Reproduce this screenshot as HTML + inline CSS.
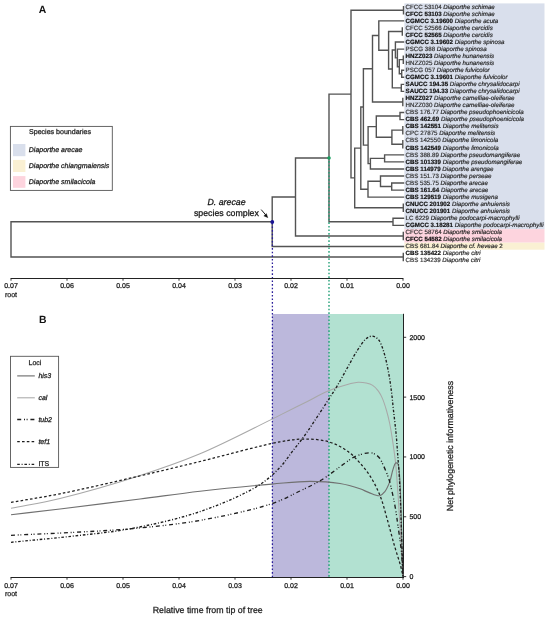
<!DOCTYPE html><html><head><meta charset="utf-8"><style>
html,body{margin:0;padding:0;background:#fff;}
svg{display:block;will-change:transform;}
text{text-rendering:geometricPrecision;font-family:"Liberation Sans",sans-serif;stroke-width:0.26px;}
text.lb{stroke-width:0.18px;}
</style></head><body>
<svg width="550" height="617" viewBox="0 0 550 617">
<rect x="404.4" y="3.4" width="140.1" height="225.7" fill="#d9dfec"/>
<rect x="404.4" y="229.1" width="140.1" height="13.6" fill="#fdd4de"/>
<rect x="404.4" y="242.7" width="140.1" height="7.0" fill="#faf0d3"/>
<rect x="272.2" y="314" width="56.8" height="263" fill="#bcb8dc"/>
<rect x="329" y="314" width="74.2" height="263" fill="#b2e1d1"/>
<path d="M403.50 6.80L403.50 13.85 M351.00 10.32L403.50 10.32 M378.80 20.90L403.50 20.90 M402.30 27.95L402.30 35.00 M388.60 31.48L402.30 31.48 M395.40 42.05L403.50 42.05 M397.40 49.10L403.50 49.10 M403.30 56.15L403.30 63.20 M399.30 59.67L403.30 59.67 M401.70 70.25L401.70 77.30 M401.70 70.25L403.50 70.25 M401.70 77.30L403.50 77.30 M399.30 73.78L401.70 73.78 M399.30 59.67L399.30 73.78 M397.40 66.72L399.30 66.72 M397.40 49.10L397.40 66.72 M395.40 57.91L397.40 57.91 M395.40 42.05L395.40 57.91 M392.30 49.98L395.40 49.98 M401.30 84.35L401.30 91.40 M401.30 84.35L403.50 84.35 M401.30 91.40L403.50 91.40 M392.30 87.88L401.30 87.88 M392.30 49.98L392.30 87.88 M388.60 68.93L392.30 68.93 M388.60 31.48L388.60 68.93 M378.80 50.20L388.60 50.20 M378.80 20.90L378.80 50.20 M372.50 35.55L378.80 35.55 M402.80 98.45L402.80 105.50 M372.50 101.97L402.80 101.97 M372.50 35.55L372.50 101.97 M363.40 68.76L372.50 68.76 M400.00 112.55L400.00 119.60 M400.00 112.55L403.50 112.55 M400.00 119.60L403.50 119.60 M376.30 116.07L400.00 116.07 M402.80 126.65L402.80 133.70 M391.90 130.17L402.80 130.17 M402.80 140.75L402.80 147.80 M391.90 144.28L402.80 144.28 M391.90 130.17L391.90 144.28 M376.30 137.22L391.90 137.22 M376.30 116.07L376.30 137.22 M368.10 126.65L376.30 126.65 M384.60 154.85L403.50 154.85 M384.60 161.90L403.50 161.90 M384.60 154.85L384.60 161.90 M370.40 158.38L384.60 158.38 M370.40 168.95L403.50 168.95 M370.40 158.38L370.40 168.95 M368.10 163.66L370.40 163.66 M368.10 126.65L368.10 163.66 M363.40 145.16L368.10 145.16 M363.40 68.76L363.40 145.16 M360.80 106.96L363.40 106.96 M380.50 176.00L403.50 176.00 M391.70 183.05L403.50 183.05 M391.70 190.10L403.50 190.10 M391.70 183.05L391.70 190.10 M380.50 186.57L391.70 186.57 M380.50 176.00L380.50 186.57 M368.00 181.29L380.50 181.29 M368.00 197.15L403.50 197.15 M368.00 181.29L368.00 197.15 M360.80 189.22L368.00 189.22 M360.80 106.96L360.80 189.22 M354.70 148.09L360.80 148.09 M403.30 204.20L403.30 211.25 M354.70 207.73L403.30 207.73 M354.70 148.09L354.70 207.73 M351.00 177.91L354.70 177.91 M351.00 10.32L351.00 177.91 M329.00 94.12L351.00 94.12 M393.00 218.30L393.00 225.35 M393.00 218.30L403.50 218.30 M393.00 225.35L403.50 225.35 M329.00 221.82L393.00 221.82 M329.00 94.12L329.00 221.82 M295.50 157.97L329.00 157.97 M403.30 232.40L403.30 239.45 M295.50 235.93L403.30 235.93 M295.50 157.97L295.50 235.93 M272.20 196.95L295.50 196.95 M272.20 246.50L403.50 246.50 M272.20 196.95L272.20 246.50 M11.00 221.72L272.20 221.72 M403.30 253.55L403.30 260.60 M11.00 257.07L403.30 257.07 M11.00 221.72L11.00 257.07" stroke="#535353" stroke-width="1.4" fill="none" stroke-linecap="square"/>
<text class="lb" x="405.6" y="8.50" font-size="6.18" fill="#333" stroke="#333"><tspan font-weight="normal">CFCC 53104</tspan> <tspan font-style="italic" fill="#262626" stroke="#262626">Diaporthe schimae</tspan></text>
<text class="lb" x="405.6" y="15.55" font-size="6.18" fill="#111" stroke="#111"><tspan font-weight="bold">CFCC 53103</tspan> <tspan font-style="italic" fill="#262626" stroke="#262626">Diaporthe schimae</tspan></text>
<text class="lb" x="405.6" y="22.60" font-size="6.18" fill="#111" stroke="#111"><tspan font-weight="bold">CGMCC 3.19600</tspan> <tspan font-style="italic" fill="#262626" stroke="#262626">Diaporthe acuta</tspan></text>
<text class="lb" x="405.6" y="29.65" font-size="6.18" fill="#333" stroke="#333"><tspan font-weight="normal">CFCC 52566</tspan> <tspan font-style="italic" fill="#262626" stroke="#262626">Diaporthe cercidis</tspan></text>
<text class="lb" x="405.6" y="36.70" font-size="6.18" fill="#111" stroke="#111"><tspan font-weight="bold">CFCC 52565</tspan> <tspan font-style="italic" fill="#262626" stroke="#262626">Diaporthe cercidis</tspan></text>
<text class="lb" x="405.6" y="43.75" font-size="6.18" fill="#111" stroke="#111"><tspan font-weight="bold">CGMCC 3.19602</tspan> <tspan font-style="italic" fill="#262626" stroke="#262626">Diaporthe spinosa</tspan></text>
<text class="lb" x="405.6" y="50.80" font-size="6.18" fill="#333" stroke="#333"><tspan font-weight="normal">PSCG 388</tspan> <tspan font-style="italic" fill="#262626" stroke="#262626">Diaporthe spinosa</tspan></text>
<text class="lb" x="405.6" y="57.85" font-size="6.18" fill="#111" stroke="#111"><tspan font-weight="bold">HNZZ023</tspan> <tspan font-style="italic" fill="#262626" stroke="#262626">Diaporthe hunanensis</tspan></text>
<text class="lb" x="405.6" y="64.90" font-size="6.18" fill="#333" stroke="#333"><tspan font-weight="normal">HNZZ025</tspan> <tspan font-style="italic" fill="#262626" stroke="#262626">Diaporthe hunanensis</tspan></text>
<text class="lb" x="405.6" y="71.95" font-size="6.18" fill="#333" stroke="#333"><tspan font-weight="normal">PSCG 057</tspan> <tspan font-style="italic" fill="#262626" stroke="#262626">Diaporthe fulvicolor</tspan></text>
<text class="lb" x="405.6" y="79.00" font-size="6.18" fill="#111" stroke="#111"><tspan font-weight="bold">CGMCC 3.19601</tspan> <tspan font-style="italic" fill="#262626" stroke="#262626">Diaporthe fulvicolor</tspan></text>
<text class="lb" x="405.6" y="86.05" font-size="6.18" fill="#111" stroke="#111"><tspan font-weight="bold">SAUCC 194.35</tspan> <tspan font-style="italic" fill="#262626" stroke="#262626">Diaporthe chrysalidocarpi</tspan></text>
<text class="lb" x="405.6" y="93.10" font-size="6.18" fill="#111" stroke="#111"><tspan font-weight="bold">SAUCC 194.33</tspan> <tspan font-style="italic" fill="#262626" stroke="#262626">Diaporthe chrysalidocarpi</tspan></text>
<text class="lb" x="405.6" y="100.15" font-size="6.18" fill="#111" stroke="#111"><tspan font-weight="bold">HNZZ027</tspan> <tspan font-style="italic" fill="#262626" stroke="#262626">Diaporthe camelliae-oleiferae</tspan></text>
<text class="lb" x="405.6" y="107.20" font-size="6.18" fill="#333" stroke="#333"><tspan font-weight="normal">HNZZ030</tspan> <tspan font-style="italic" fill="#262626" stroke="#262626">Diaporthe camelliae-oleiferae</tspan></text>
<text class="lb" x="405.6" y="114.25" font-size="6.18" fill="#333" stroke="#333"><tspan font-weight="normal">CBS 176.77</tspan> <tspan font-style="italic" fill="#262626" stroke="#262626">Diaporthe pseudophoenicicola</tspan></text>
<text class="lb" x="405.6" y="121.30" font-size="6.18" fill="#111" stroke="#111"><tspan font-weight="bold">CBS 462.69</tspan> <tspan font-style="italic" fill="#262626" stroke="#262626">Diaporthe pseudophoenicicola</tspan></text>
<text class="lb" x="405.6" y="128.35" font-size="6.18" fill="#111" stroke="#111"><tspan font-weight="bold">CBS 142551</tspan> <tspan font-style="italic" fill="#262626" stroke="#262626">Diaporthe melitensis</tspan></text>
<text class="lb" x="405.6" y="135.40" font-size="6.18" fill="#333" stroke="#333"><tspan font-weight="normal">CPC 27875</tspan> <tspan font-style="italic" fill="#262626" stroke="#262626">Diaporthe melitensis</tspan></text>
<text class="lb" x="405.6" y="142.45" font-size="6.18" fill="#333" stroke="#333"><tspan font-weight="normal">CBS 142550</tspan> <tspan font-style="italic" fill="#262626" stroke="#262626">Diaporthe limonicola</tspan></text>
<text class="lb" x="405.6" y="149.50" font-size="6.18" fill="#111" stroke="#111"><tspan font-weight="bold">CBS 142549</tspan> <tspan font-style="italic" fill="#262626" stroke="#262626">Diaporthe limonicola</tspan></text>
<text class="lb" x="405.6" y="156.55" font-size="6.18" fill="#333" stroke="#333"><tspan font-weight="normal">CBS 388.89</tspan> <tspan font-style="italic" fill="#262626" stroke="#262626">Diaporthe pseudomangiferae</tspan></text>
<text class="lb" x="405.6" y="163.60" font-size="6.18" fill="#111" stroke="#111"><tspan font-weight="bold">CBS 101339</tspan> <tspan font-style="italic" fill="#262626" stroke="#262626">Diaporthe pseudomangiferae</tspan></text>
<text class="lb" x="405.6" y="170.65" font-size="6.18" fill="#111" stroke="#111"><tspan font-weight="bold">CBS 114979</tspan> <tspan font-style="italic" fill="#262626" stroke="#262626">Diaporthe arengae</tspan></text>
<text class="lb" x="405.6" y="177.70" font-size="6.18" fill="#333" stroke="#333"><tspan font-weight="normal">CBS 151.73</tspan> <tspan font-style="italic" fill="#262626" stroke="#262626">Diaporthe perseae</tspan></text>
<text class="lb" x="405.6" y="184.75" font-size="6.18" fill="#333" stroke="#333"><tspan font-weight="normal">CBS 535.75</tspan> <tspan font-style="italic" fill="#262626" stroke="#262626">Diaporthe arecae</tspan></text>
<text class="lb" x="405.6" y="191.80" font-size="6.18" fill="#111" stroke="#111"><tspan font-weight="bold">CBS 161.64</tspan> <tspan font-style="italic" fill="#262626" stroke="#262626">Diaporthe arecae</tspan></text>
<text class="lb" x="405.6" y="198.85" font-size="6.18" fill="#111" stroke="#111"><tspan font-weight="bold">CBS 129519</tspan> <tspan font-style="italic" fill="#262626" stroke="#262626">Diaporthe musigena</tspan></text>
<text class="lb" x="405.6" y="205.90" font-size="6.18" fill="#111" stroke="#111"><tspan font-weight="bold">CNUCC 201902</tspan> <tspan font-style="italic" fill="#262626" stroke="#262626">Diaporthe anhuiensis</tspan></text>
<text class="lb" x="405.6" y="212.95" font-size="6.18" fill="#111" stroke="#111"><tspan font-weight="bold">CNUCC 201901</tspan> <tspan font-style="italic" fill="#262626" stroke="#262626">Diaporthe anhuiensis</tspan></text>
<text class="lb" x="405.6" y="220.00" font-size="6.18" fill="#333" stroke="#333"><tspan font-weight="normal">LC 6229</tspan> <tspan font-style="italic" fill="#262626" stroke="#262626">Diaporthe podocarpi-macrophylli</tspan></text>
<text class="lb" x="405.6" y="227.05" font-size="6.18" fill="#111" stroke="#111"><tspan font-weight="bold">CGMCC 3.18281</tspan> <tspan font-style="italic" fill="#262626" stroke="#262626">Diaporthe podocarpi-macrophylli</tspan></text>
<text class="lb" x="405.6" y="234.10" font-size="6.18" fill="#333" stroke="#333"><tspan font-weight="normal">CFCC 58764</tspan> <tspan font-style="italic" fill="#262626" stroke="#262626">Diaporthe smilacicola</tspan></text>
<text class="lb" x="405.6" y="241.15" font-size="6.18" fill="#111" stroke="#111"><tspan font-weight="bold">CFCC 54582</tspan> <tspan font-style="italic" fill="#262626" stroke="#262626">Diaporthe smilacicola</tspan></text>
<text class="lb" x="405.6" y="248.20" font-size="6.18" fill="#333" stroke="#333"><tspan font-weight="normal">CBS 681.84</tspan> <tspan font-style="italic" fill="#262626" stroke="#262626">Diaporthe cf. heveae</tspan> <tspan fill="#262626" stroke="#262626">2</tspan></text>
<text class="lb" x="405.6" y="255.25" font-size="6.18" fill="#111" stroke="#111"><tspan font-weight="bold">CBS 135422</tspan> <tspan font-style="italic" fill="#262626" stroke="#262626">Diaporthe citri</tspan></text>
<text class="lb" x="405.6" y="262.30" font-size="6.18" fill="#333" stroke="#333"><tspan font-weight="normal">CBS 134239</tspan> <tspan font-style="italic" fill="#262626" stroke="#262626">Diaporthe citri</tspan></text>
<line x1="272.4" y1="222" x2="272.4" y2="577" stroke="#2a1e9a" stroke-width="1.3" stroke-dasharray="1.6 2.0" stroke-dashoffset="2.7"/>
<line x1="329.0" y1="158" x2="329.0" y2="577" stroke="#23a078" stroke-width="1.4" stroke-dasharray="1.6 2.0" stroke-dashoffset="0.5"/>
<circle cx="272.3" cy="221.9" r="1.9" fill="#1a1496"/>
<circle cx="329.0" cy="158" r="1.8" fill="#18a060"/>
<text x="38.7" y="12.6" font-size="10.4" font-weight="bold" fill="#111" stroke="#111" style="stroke-width:0">A</text>
<text x="39.0" y="322.7" font-size="10.4" font-weight="bold" fill="#111" stroke="#111" style="stroke-width:0">B</text>
<rect x="10.4" y="126.4" width="101.9" height="64" fill="none" stroke="#555" stroke-width="0.9"/>
<text x="60" y="133.7" font-size="7.05" text-anchor="middle" fill="#222" stroke="#222">Species boundaries</text>
<rect x="13" y="144" width="12.4" height="12.2" fill="#d9dfec"/>
<rect x="13" y="159.9" width="12.4" height="12.1" fill="#faf0d3"/>
<rect x="13" y="176.1" width="12.4" height="11.7" fill="#fdd4de"/>
<text x="28.8" y="151.9" font-size="7" font-style="italic" fill="#222" stroke="#222">Diaporthe arecae</text>
<text x="28.8" y="168" font-size="7" font-style="italic" fill="#222" stroke="#222">Diaporthe chiangmaiensis</text>
<text x="28.8" y="183.8" font-size="7" font-style="italic" fill="#222" stroke="#222">Diaporthe smilacicola</text>
<text x="226.5" y="205" font-size="8.8" font-style="italic" text-anchor="middle" fill="#151515" stroke="#151515">D. arecae</text>
<text x="226.4" y="215.9" font-size="8.8" text-anchor="middle" fill="#151515" stroke="#151515">species complex</text>
<line x1="261.2" y1="209.6" x2="265.6" y2="214.8" stroke="#111" stroke-width="0.95"/>
<path d="M267.9 217.7 L263.8 215.9 L266.4 213.5 Z" fill="#111" stroke="#111" stroke-width="0.3" stroke-linejoin="round"/>
<line x1="10.6" y1="278.5" x2="403.4" y2="278.5" stroke="#222" stroke-width="1"/><line x1="11.00" y1="278.5" x2="11.00" y2="280.7" stroke="#222" stroke-width="0.9"/><text x="11.00" y="288.1" font-size="7.0" text-anchor="middle" fill="#222" stroke="#222">0.07</text><line x1="67.00" y1="278.5" x2="67.00" y2="280.7" stroke="#222" stroke-width="0.9"/><text x="67.00" y="288.1" font-size="7.0" text-anchor="middle" fill="#222" stroke="#222">0.06</text><line x1="123.00" y1="278.5" x2="123.00" y2="280.7" stroke="#222" stroke-width="0.9"/><text x="123.00" y="288.1" font-size="7.0" text-anchor="middle" fill="#222" stroke="#222">0.05</text><line x1="179.00" y1="278.5" x2="179.00" y2="280.7" stroke="#222" stroke-width="0.9"/><text x="179.00" y="288.1" font-size="7.0" text-anchor="middle" fill="#222" stroke="#222">0.04</text><line x1="235.00" y1="278.5" x2="235.00" y2="280.7" stroke="#222" stroke-width="0.9"/><text x="235.00" y="288.1" font-size="7.0" text-anchor="middle" fill="#222" stroke="#222">0.03</text><line x1="291.00" y1="278.5" x2="291.00" y2="280.7" stroke="#222" stroke-width="0.9"/><text x="291.00" y="288.1" font-size="7.0" text-anchor="middle" fill="#222" stroke="#222">0.02</text><line x1="347.00" y1="278.5" x2="347.00" y2="280.7" stroke="#222" stroke-width="0.9"/><text x="347.00" y="288.1" font-size="7.0" text-anchor="middle" fill="#222" stroke="#222">0.01</text><line x1="403.00" y1="278.5" x2="403.00" y2="280.7" stroke="#222" stroke-width="0.9"/><text x="403.00" y="288.1" font-size="7.0" text-anchor="middle" fill="#222" stroke="#222">0.00</text><text x="11" y="296.8" font-size="7.0" text-anchor="middle" fill="#222" stroke="#222">root</text>
<line x1="10.6" y1="577.5" x2="403.4" y2="577.5" stroke="#222" stroke-width="1"/><line x1="11.00" y1="577.5" x2="11.00" y2="579.7" stroke="#222" stroke-width="0.9"/><text x="11.00" y="587.6" font-size="7.0" text-anchor="middle" fill="#222" stroke="#222">0.07</text><line x1="67.00" y1="577.5" x2="67.00" y2="579.7" stroke="#222" stroke-width="0.9"/><text x="67.00" y="587.6" font-size="7.0" text-anchor="middle" fill="#222" stroke="#222">0.06</text><line x1="123.00" y1="577.5" x2="123.00" y2="579.7" stroke="#222" stroke-width="0.9"/><text x="123.00" y="587.6" font-size="7.0" text-anchor="middle" fill="#222" stroke="#222">0.05</text><line x1="179.00" y1="577.5" x2="179.00" y2="579.7" stroke="#222" stroke-width="0.9"/><text x="179.00" y="587.6" font-size="7.0" text-anchor="middle" fill="#222" stroke="#222">0.04</text><line x1="235.00" y1="577.5" x2="235.00" y2="579.7" stroke="#222" stroke-width="0.9"/><text x="235.00" y="587.6" font-size="7.0" text-anchor="middle" fill="#222" stroke="#222">0.03</text><line x1="291.00" y1="577.5" x2="291.00" y2="579.7" stroke="#222" stroke-width="0.9"/><text x="291.00" y="587.6" font-size="7.0" text-anchor="middle" fill="#222" stroke="#222">0.02</text><line x1="347.00" y1="577.5" x2="347.00" y2="579.7" stroke="#222" stroke-width="0.9"/><text x="347.00" y="587.6" font-size="7.0" text-anchor="middle" fill="#222" stroke="#222">0.01</text><line x1="403.00" y1="577.5" x2="403.00" y2="579.7" stroke="#222" stroke-width="0.9"/><text x="403.00" y="587.6" font-size="7.0" text-anchor="middle" fill="#222" stroke="#222">0.00</text><text x="11" y="596.2" font-size="7.0" text-anchor="middle" fill="#222" stroke="#222">root</text>
<line x1="403.5" y1="313.8" x2="403.5" y2="578" stroke="#222" stroke-width="1"/>
<line x1="403.5" y1="576.60" x2="406.2" y2="576.60" stroke="#222" stroke-width="0.9"/>
<text x="409.4" y="579.10" font-size="7" fill="#222" stroke="#222">0</text>
<line x1="403.5" y1="516.77" x2="406.2" y2="516.77" stroke="#222" stroke-width="0.9"/>
<text x="409.4" y="519.27" font-size="7" fill="#222" stroke="#222">500</text>
<line x1="403.5" y1="456.95" x2="406.2" y2="456.95" stroke="#222" stroke-width="0.9"/>
<text x="409.4" y="459.45" font-size="7" fill="#222" stroke="#222">1000</text>
<line x1="403.5" y1="397.12" x2="406.2" y2="397.12" stroke="#222" stroke-width="0.9"/>
<text x="409.4" y="399.62" font-size="7" fill="#222" stroke="#222">1500</text>
<line x1="403.5" y1="337.30" x2="406.2" y2="337.30" stroke="#222" stroke-width="0.9"/>
<text x="409.4" y="339.80" font-size="7" fill="#222" stroke="#222">2000</text>
<text transform="translate(453.3 446) rotate(-90)" font-size="8.85" text-anchor="middle" fill="#222" stroke="#222">Net phylogenetic informativeness</text>
<text x="207.7" y="612.9" font-size="8.8" text-anchor="middle" fill="#222" stroke="#222">Relative time from tip of tree</text>
<path d="M11.00 508.20 C27.33 504.93 41.96 502.76 60.00 498.40 C82.75 492.90 112.23 484.47 136.40 476.70 C158.70 469.53 177.84 463.12 200.00 453.80 C225.41 443.12 261.07 424.39 280.00 415.10 C290.46 409.96 296.19 407.04 304.30 403.00 C312.43 398.95 320.72 394.08 328.70 390.80 C335.93 387.82 344.55 385.23 350.00 383.80 C353.31 382.93 355.39 382.33 358.10 382.20 C360.79 382.07 363.68 382.42 366.20 383.00 C368.52 383.53 370.73 384.14 372.70 385.40 C374.83 386.76 376.79 388.95 378.40 391.10 C380.03 393.28 381.17 395.60 382.40 398.40 C383.92 401.87 385.29 406.37 386.50 410.50 C387.73 414.73 388.77 419.02 389.70 423.50 C390.68 428.21 391.45 433.37 392.20 438.10 C392.91 442.55 393.52 446.77 394.10 451.10 C394.68 455.41 395.16 458.61 395.70 464.00 C396.59 472.98 397.57 487.68 398.40 500.00 C399.28 512.98 400.02 526.97 400.80 540.00 C401.55 552.45 402.27 564.33 403.00 576.50" fill="none" stroke="#a8a8a8" stroke-width="1.05"/>
<path d="M11.00 514.80 C27.33 512.87 41.68 511.23 60.00 509.00 C83.42 506.15 115.25 502.16 140.00 499.00 C161.44 496.27 179.07 493.59 200.00 491.20 C222.89 488.58 251.79 485.84 272.00 484.10 C286.66 482.84 298.08 481.30 310.00 481.30 C320.59 481.30 331.07 482.00 340.00 483.50 C347.40 484.74 354.68 486.99 360.00 488.80 C363.67 490.05 365.90 491.48 369.10 492.60 C372.51 493.80 377.13 496.27 379.90 495.70 C381.96 495.28 383.26 493.59 384.70 491.80 C386.61 489.43 388.25 485.63 389.60 482.10 C391.08 478.22 391.83 472.89 393.00 469.40 C393.85 466.87 394.47 463.56 395.60 463.00 C396.25 462.68 397.27 463.07 397.80 463.60 C398.50 464.31 398.52 465.84 398.80 467.50 C399.28 470.34 399.53 475.09 399.80 479.20 C400.11 483.77 400.30 488.72 400.50 493.70 C400.71 498.97 400.81 503.54 401.00 510.00 C401.28 519.46 401.66 533.64 402.00 545.00 C402.33 555.78 402.67 566.00 403.00 576.50" fill="none" stroke="#707070" stroke-width="1.15"/>
<path d="M11.00 502.40 C27.33 499.53 41.91 497.41 60.00 493.80 C82.70 489.27 112.12 482.32 136.40 476.70 C158.59 471.57 177.60 466.94 200.00 461.50 C225.15 455.40 260.97 445.22 280.00 441.80 C290.37 439.93 296.19 439.00 304.30 439.00 C312.42 439.00 321.22 439.56 328.70 441.80 C335.74 443.91 342.38 447.46 348.10 451.60 C353.68 455.64 358.49 461.22 362.70 466.20 C366.51 470.71 369.59 475.04 372.50 480.00 C375.55 485.20 378.14 490.68 380.50 496.80 C383.16 503.71 385.08 511.74 387.30 519.50 C389.62 527.62 391.78 536.40 394.10 544.50 C396.31 552.21 399.35 561.07 400.90 567.00 C401.90 570.82 402.30 573.33 403.00 576.50" fill="none" stroke="#1e1e1e" stroke-width="1.25" stroke-dasharray="2.6 2.2"/>
<path d="M11.00 535.30 C32.33 534.30 54.48 533.43 75.00 532.30 C94.03 531.25 110.59 530.58 130.00 528.80 C151.95 526.79 176.62 524.52 200.00 520.40 C223.95 516.18 253.79 509.76 272.00 503.60 C283.74 499.63 291.34 495.17 300.00 491.00 C307.66 487.31 314.58 484.15 321.40 480.00 C328.18 475.88 334.77 470.37 340.80 466.20 C345.99 462.62 350.33 458.64 355.40 456.40 C360.09 454.33 366.41 452.74 370.00 452.80 C372.11 452.83 373.46 453.38 375.00 454.20 C376.64 455.07 378.22 456.41 379.50 458.00 C380.94 459.79 381.77 461.97 383.00 464.60 C384.73 468.29 387.04 473.46 388.60 478.20 C390.23 483.14 391.35 488.60 392.50 493.70 C393.61 498.63 394.52 503.19 395.40 508.30 C396.37 513.90 397.10 519.54 398.00 526.00 C399.09 533.81 400.56 543.36 401.40 551.90 C402.21 560.19 402.47 568.30 403.00 576.50" fill="none" stroke="#1e1e1e" stroke-width="1.35" stroke-dasharray="4 2.8 1 1.6 1 2.8"/>
<path d="M11.00 542.30 C32.33 540.17 54.49 538.25 75.00 535.90 C94.04 533.72 110.67 532.41 130.00 528.80 C152.04 524.68 178.03 519.13 200.00 511.60 C220.71 504.50 244.22 494.45 258.50 485.50 C267.96 479.57 274.10 473.55 280.00 467.40 C284.97 462.22 288.14 456.85 292.20 451.60 C296.24 446.38 300.34 441.45 304.30 436.00 C308.45 430.28 312.46 424.08 316.50 418.00 C320.59 411.84 325.02 405.03 328.70 399.30 C331.81 394.47 334.26 390.82 337.20 385.90 C340.68 380.07 344.55 372.74 348.10 366.50 C351.44 360.64 354.58 354.46 357.90 349.50 C360.70 345.33 363.49 340.68 366.40 338.50 C368.40 337.00 370.51 335.94 372.50 336.10 C374.55 336.27 376.82 337.80 378.50 339.70 C380.73 342.23 382.03 346.67 383.50 351.00 C385.35 356.44 386.80 363.47 388.10 370.00 C389.46 376.82 390.49 384.20 391.40 391.10 C392.27 397.69 392.75 403.67 393.50 410.50 C394.34 418.15 395.46 426.83 396.20 434.80 C396.91 442.49 397.37 450.42 397.90 457.50 C398.36 463.71 398.81 468.65 399.20 475.00 C399.66 482.59 400.03 490.69 400.40 500.00 C400.87 511.77 401.26 526.97 401.70 540.00 C402.12 552.45 402.57 564.33 403.00 576.50" fill="none" stroke="#1e1e1e" stroke-width="1.35" stroke-dasharray="2.6 1.8 1 1.8"/>
<rect x="10.5" y="356.3" width="48.1" height="111.1" fill="#fff" stroke="#555" stroke-width="0.9"/>
<text x="35" y="364.6" font-size="7" text-anchor="middle" fill="#222" stroke="#222">Loci</text>
<line x1="17.2" y1="375.9" x2="34.8" y2="375.9" stroke="#707070" stroke-width="1.15"/>
<text x="38.4" y="377.9" font-size="7" font-style="italic" fill="#222" stroke="#222">his3</text>
<line x1="17.2" y1="397.8" x2="34.8" y2="397.8" stroke="#a8a8a8" stroke-width="1.05"/>
<text x="38.4" y="399.8" font-size="7" font-style="italic" fill="#222" stroke="#222">cal</text>
<line x1="17.2" y1="419.5" x2="34.8" y2="419.5" stroke="#1e1e1e" stroke-width="1.35" stroke-dasharray="4 2.8 1 1.6 1 2.8"/>
<text x="38.4" y="421.5" font-size="7" font-style="italic" fill="#222" stroke="#222">tub2</text>
<line x1="17.2" y1="441.7" x2="34.8" y2="441.7" stroke="#1e1e1e" stroke-width="1.25" stroke-dasharray="2.6 2.2"/>
<text x="38.4" y="443.7" font-size="7" font-style="italic" fill="#222" stroke="#222">tef1</text>
<line x1="17.2" y1="464.4" x2="34.8" y2="464.4" stroke="#1e1e1e" stroke-width="1.35" stroke-dasharray="2.6 1.8 1 1.8"/>
<text x="38.4" y="466.4" font-size="7" fill="#222" stroke="#222">ITS</text>
</svg></body></html>
